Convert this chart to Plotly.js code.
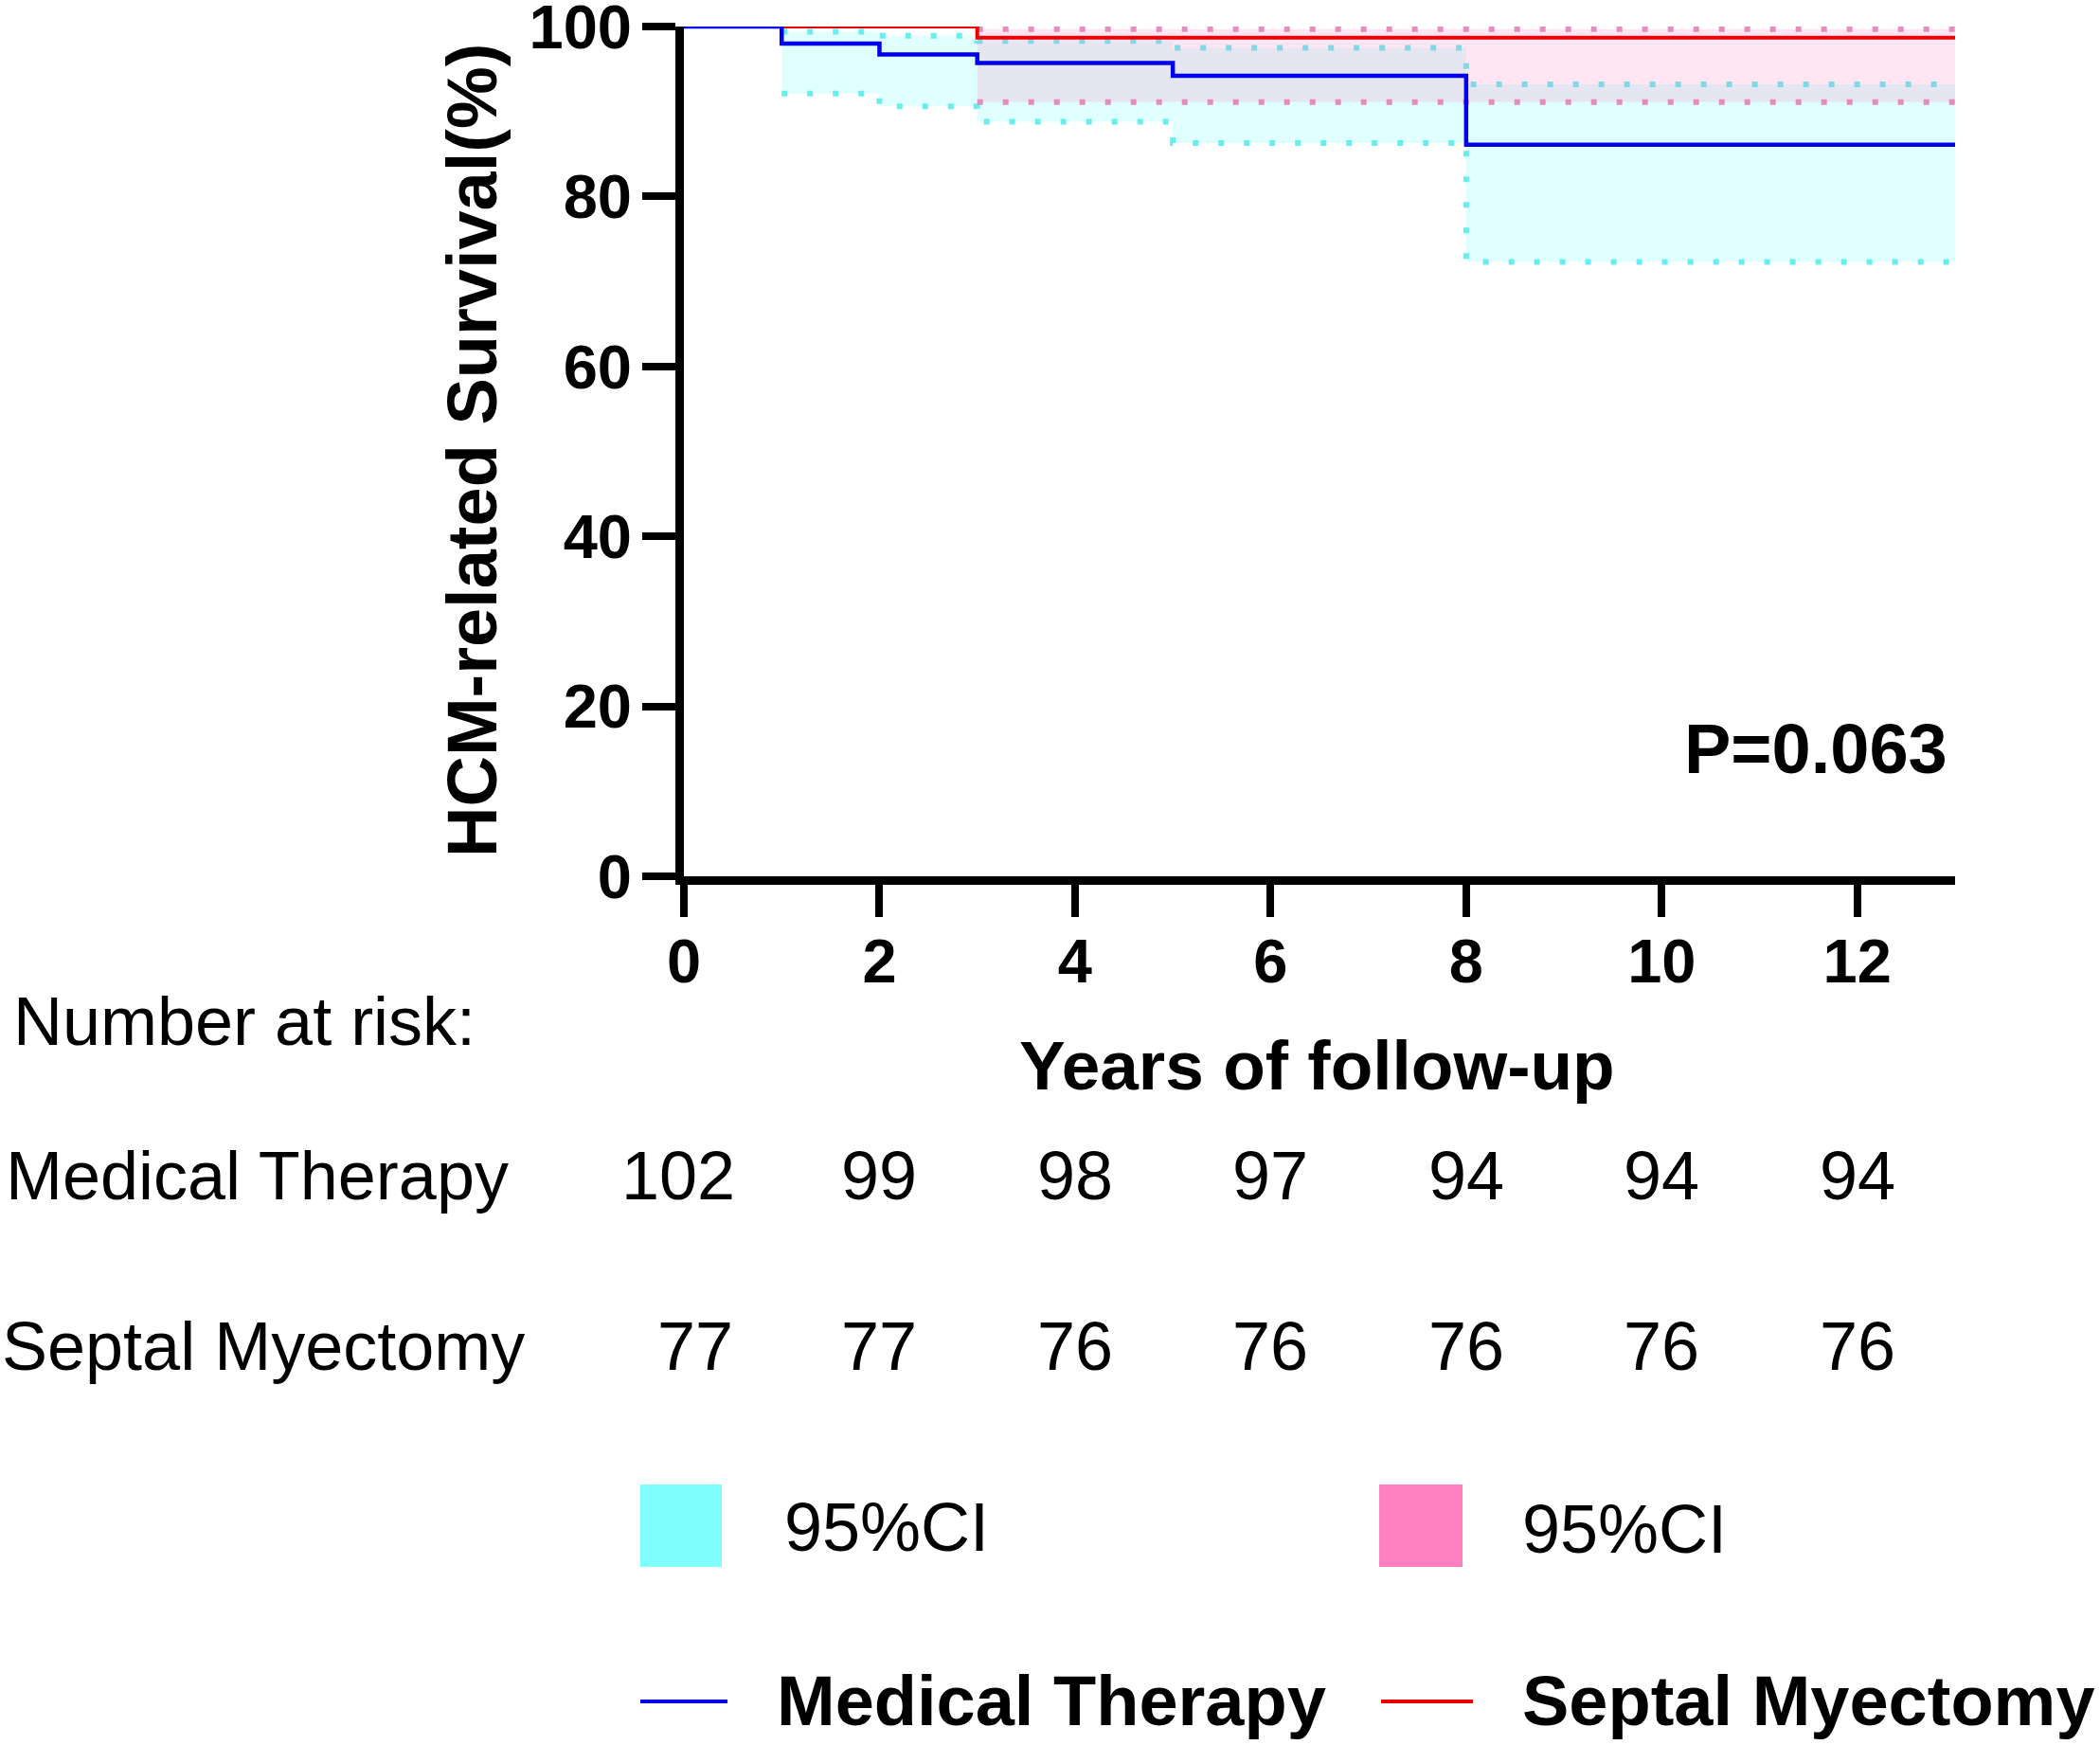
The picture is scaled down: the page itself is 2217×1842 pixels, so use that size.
<!DOCTYPE html>
<html>
<head>
<meta charset="utf-8">
<script src="https://cdn.plot.ly/plotly-3.0.1.min.js"></script>
<style>html,body{margin:0;padding:0;background:#fff;}#chart{width:2217px;height:1842px;}</style>
</head>
<body>
<div id="chart"></div>
<script>
// ---- data ----
const mtX = [0, 1, 2, 3, 5, 8, 13];
const mtSurv = [100, 98.0, 96.7, 95.7, 94.2, 86.1, 86.1];
const smX = [0, 3, 13];
const smSurv = [100, 98.7, 98.7];
const mtCiX = [1, 2, 3, 5, 8, 13];
const mtCiLow = [92.1, 90.6, 88.8, 86.3, 72.3, 72.3];
const mtCiHigh = [99.4, 98.9, 98.3, 97.5, 93.2, 93.2];
const smCiX = [3, 13];
const smCiLow = [91.1, 91.1];
const smCiHigh = [99.7, 99.7];
const xTicks = [0, 2, 4, 6, 8, 10, 12];
const yTicks = [0, 20, 40, 60, 80, 100];
const riskTimes = [0, 2, 4, 6, 8, 10, 12];
const riskMT = [102, 99, 98, 97, 94, 94, 94];
const riskSM = [77, 77, 76, 76, 76, 76, 76];
const groupNames = ["Medical Therapy", "Septal Myectomy"];
const ciLabel = "95%CI";
const pText = "P=0.063";

// ---- layout helpers (page pixels -> paper coords) ----
const W = 2217, H = 1842;
const L = 722, R = 2064, T = 28, B = 925;
const px = X => (X - L) / (R - L);
const py = Y => (B - Y) / (B - T);
const FONT = "'Liberation Sans', Arial, Helvetica, sans-serif";

const cyanDot = "rgb(105,238,238)";
const pinkDot = "rgb(228,140,188)";
const dotDash = "6px,21px";

const traces = [
  {x: mtCiX, y: mtCiLow, mode: "lines", line: {shape: "hv", color: cyanDot, width: 6, dash: dotDash}, cliponaxis: false},
  {x: mtCiX, y: mtCiHigh, mode: "lines", fill: "tonexty", fillcolor: "rgba(0,255,255,0.12)",
   line: {shape: "hv", color: cyanDot, width: 6, dash: dotDash}, cliponaxis: false},
  {x: smCiX, y: smCiLow, mode: "lines", line: {shape: "hv", color: pinkDot, width: 6, dash: dotDash}, cliponaxis: false},
  {x: smCiX, y: smCiHigh, mode: "lines", fill: "tonexty", fillcolor: "rgba(255,105,180,0.17)",
   line: {shape: "hv", color: pinkDot, width: 6, dash: dotDash}, cliponaxis: false},
  {x: smX, y: smSurv, mode: "lines", line: {shape: "hv", color: "rgb(235,0,0)", width: 4}, cliponaxis: false},
  {x: mtX, y: mtSurv, mode: "lines", line: {shape: "hv", color: "rgb(0,0,235)", width: 4.5}, cliponaxis: false}
];

const annotations = [];
// axis titles
annotations.push({xref: "paper", yref: "paper", x: px(499), y: py(476), text: "<b>HCM-related Survival(%)</b>",
  textangle: -90, showarrow: false, xanchor: "center", yanchor: "middle", font: {family: FONT, size: 74, color: "#000"}});
annotations.push({xref: "paper", yref: "paper", x: px(1390), y: py(1124), text: "<b>Years of follow-up</b>",
  showarrow: false, xanchor: "center", yanchor: "middle", font: {family: FONT, size: 73, color: "#000"}});
// p-value
annotations.push({xref: "x", yref: "y", x: 12.94, y: 15.0, text: "<b>" + pText + "</b>", showarrow: false,
  xanchor: "right", yanchor: "middle", font: {family: FONT, size: 74, color: "#000"}});
// number at risk
annotations.push({xref: "paper", yref: "paper", x: px(12), y: py(1078), text: "Number at risk:", showarrow: false,
  xanchor: "left", yanchor: "middle", font: {family: FONT, size: 72, color: "#000"}});
annotations.push({xref: "paper", yref: "paper", x: px(4), y: py(1241), text: groupNames[0], showarrow: false,
  xanchor: "left", yanchor: "middle", font: {family: FONT, size: 72, color: "#000"}});
annotations.push({xref: "paper", yref: "paper", x: px(0), y: py(1421), text: groupNames[1], showarrow: false,
  xanchor: "left", yanchor: "middle", font: {family: FONT, size: 72, color: "#000"}});
riskTimes.forEach((t, i) => {
  annotations.push({xref: "x", yref: "paper", x: t, y: py(1241), text: String(riskMT[i]), showarrow: false,
    xanchor: "center", yanchor: "middle", xshift: i === 0 ? -6 : 0, font: {family: FONT, size: 72, color: "#000"}});
  annotations.push({xref: "x", yref: "paper", x: t, y: py(1421), text: String(riskSM[i]), showarrow: false,
    xanchor: "center", yanchor: "middle", xshift: i === 0 ? 12 : 0, font: {family: FONT, size: 72, color: "#000"}});
});
// legend labels
annotations.push({xref: "paper", yref: "paper", x: px(826), y: py(1612), text: ciLabel, showarrow: false,
  xanchor: "left", yanchor: "middle", font: {family: FONT, size: 72, color: "#000"}});
annotations.push({xref: "paper", yref: "paper", x: px(1605), y: py(1614), text: ciLabel, showarrow: false,
  xanchor: "left", yanchor: "middle", font: {family: FONT, size: 72, color: "#000"}});
annotations.push({xref: "paper", yref: "paper", x: px(818), y: py(1796), text: "<b>" + groupNames[0] + "</b>", showarrow: false,
  xanchor: "left", yanchor: "middle", font: {family: FONT, size: 74, color: "#000"}});
annotations.push({xref: "paper", yref: "paper", x: px(1605), y: py(1796), text: "<b>" + groupNames[1] + "</b>", showarrow: false,
  xanchor: "left", yanchor: "middle", font: {family: FONT, size: 74, color: "#000"}});

const shapes = [
  {type: "rect", xref: "paper", yref: "paper", x0: px(676), x1: px(762), y0: py(1654), y1: py(1567),
   fillcolor: "rgb(128,255,255)", line: {width: 0}},
  {type: "rect", xref: "paper", yref: "paper", x0: px(1456), x1: px(1544), y0: py(1654), y1: py(1567),
   fillcolor: "rgb(255,128,192)", line: {width: 0}},
  {type: "line", xref: "paper", yref: "paper", x0: px(676), x1: px(768), y0: py(1796), y1: py(1796),
   line: {color: "rgb(0,0,235)", width: 4}},
  {type: "line", xref: "paper", yref: "paper", x0: px(1458), x1: px(1555), y0: py(1796), y1: py(1796),
   line: {color: "rgb(235,0,0)", width: 4}}
];

const layout = {
  width: W, height: H,
  margin: {l: L, r: W - R, t: T, b: H - B, pad: 0},
  paper_bgcolor: "#fff", plot_bgcolor: "rgba(0,0,0,0)",
  showlegend: false, hovermode: false,
  font: {family: FONT, color: "#000"},
  xaxis: {range: [0, 13], tickvals: xTicks, ticktext: xTicks.map(String), showgrid: false, zeroline: false,
    showline: true, linecolor: "#000", linewidth: 9, ticks: "outside", ticklen: 34, tickwidth: 8, tickcolor: "#000",
    ticklabelstandoff: -9, ticklabeloverflow: "allow",
    tickfont: {family: FONT, size: 65, color: "#000", weight: "bold"}, fixedrange: true},
  yaxis: {range: [0, 100], tickvals: yTicks, ticktext: yTicks.map(String), showgrid: false, zeroline: false,
    showline: true, linecolor: "#000", linewidth: 9, ticks: "outside", ticklen: 35, tickwidth: 8, tickcolor: "#000",
    ticklabelstandoff: -2, ticklabeloverflow: "allow",
    tickfont: {family: FONT, size: 65, color: "#000", weight: "bold"}, fixedrange: true},
  annotations: annotations,
  shapes: shapes
};

Plotly.newPlot("chart", traces, layout, {staticPlot: true, displayModeBar: false});
</script>
</body>
</html>
